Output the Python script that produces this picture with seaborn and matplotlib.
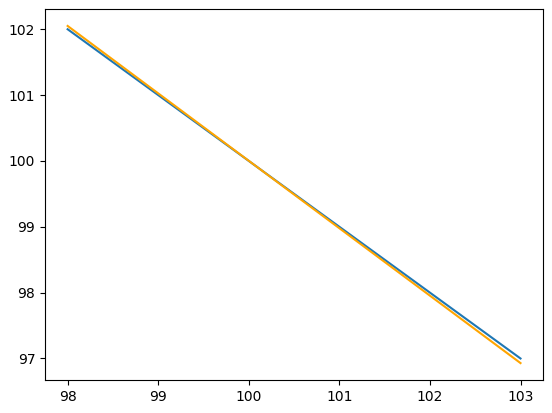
import matplotlib
matplotlib.use("Agg")
import matplotlib.pyplot as plt
import seaborn as sns

# data
x = [98, 103]
y_blue = [102, 97]
y_orange = [102.05, 96.93]

fig, ax = plt.subplots(figsize=(5.52, 4.13), dpi=100)
fig.subplots_adjust(left=0.0815, right=0.984, top=0.978, bottom=0.08)
sns.lineplot(x=x, y=y_blue, color="#1f77b4", ax=ax)
sns.lineplot(x=x, y=y_orange, color="orange", ax=ax)
fig.savefig("out.png", dpi=100)
